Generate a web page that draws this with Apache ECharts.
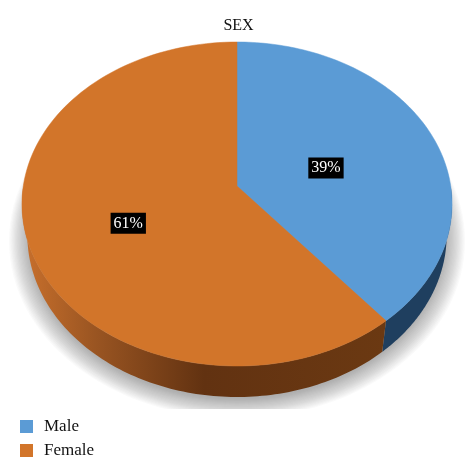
<!DOCTYPE html>
<html><head><meta charset="utf-8">
<style>html,body{margin:0;padding:0;background:#fff}#c{width:474px;height:474px}</style>
<script src="https://cdn.jsdelivr.net/npm/echarts@6/dist/echarts.min.js"></script>
</head><body><div id="c"></div>
<script>
const categories = ['Male', 'Female'];
const values = [39, 61];
const colors = ['#5b9bd5', '#d2752a'];
const labels = ['39%', '61%'];

// Perspective projection of a round disc: centre at vertex, tilted
const CX = 237, CY = 186, A = 213.7, B = 160, C = -1 / 9, DEPTH = 31, LOWER_SCALE = 0.975;
function project(r, deg) {
  const t = deg * Math.PI / 180;
  const u = r * Math.sin(t), v = -r * Math.cos(t), w = 1 + C * v;
  return [CX + A * u / w, CY + B * v / w];
}
const total = values.reduce((a, b) => a + b, 0);
const starts = values.map((_, i) => values.slice(0, i).reduce((a, b) => a + b, 0) / total * 360);
const ends = values.map((_, i) => starts[i] + values[i] / total * 360);

const SHADOW_BOTTOM = 409;
const labelR = [0.45, 0.53], labelDy = [6, 8];
const wallFill = [
  '#1f3f5f',
  { type: 'linear', x: 0, y: 0, x2: 1, y2: 0, colorStops: [
    { offset: 0, color: '#c9702c' }, { offset: 0.2, color: '#9a5522' },
    { offset: 0.5, color: '#623211' }, { offset: 1, color: '#6b3912' } ] }
];
function arc(a, b) {
  const pts = [], n = 120;
  for (let i = 0; i <= n; i++) pts.push(project(1, a + (b - a) * i / n));
  return pts;
}
function renderSlice(idx) {
  return function () {
    const a = starts[idx], b = ends[idx];
    const face = [[CX, CY]].concat(arc(a, b));
    // visible wall only on the near half of the rim
    const wa = Math.max(a, 90), wb = Math.min(b, 270);
    const rim = arc(wa, wb);
    const lower = rim.slice().reverse().map(p => [CX + (p[0] - CX) * LOWER_SCALE, p[1] + DEPTH]);
    const mid = (a + b) / 2;
    const lp = project(labelR[idx], mid);
    return { type: 'group', children: [
      { type: 'polygon', shape: { points: rim.concat(lower) }, style: { fill: wallFill[idx] } },
      { type: 'polygon', shape: { points: face }, style: { fill: colors[idx], stroke: colors[idx], lineWidth: 0.5 } },
      { type: 'text', x: lp[0], y: lp[1] + labelDy[idx], z2: 10, style: {
          text: labels[idx], fill: '#fff', backgroundColor: '#000', padding: [3, 3, 2, 3],
          font: '16px "Liberation Serif"', align: 'center', verticalAlign: 'middle' } }
    ] };
  };
}
// Soft drop shadow: stacked translucent ellipses from inner to outer
const SHADOW_LAYERS = 22;
function renderShadow() {
  const children = [];
  for (let i = 0; i < SHADOW_LAYERS; i++) {
    const f = i / (SHADOW_LAYERS - 1);
    const cy = 235 + 6 * f, rx = 203 + 25 * f, ry = 160 + 17 * f;
    children.push({ type: 'ellipse', shape: { cx: CX, cy, rx, ry },
      style: { fill: 'rgba(70,72,76,0.027)' } });
  }
  children.push({ type: 'rect', shape: { x: 0, y: SHADOW_BOTTOM, width: 474, height: 65 }, style: { fill: '#fff' } });
  return { type: 'group', children };
}
const chart = echarts.init(document.getElementById('c'), null, { renderer: 'canvas' });
chart.setOption({
  animation: false,
  backgroundColor: '#fff',
  title: { text: 'SEX', left: 233.5, top: 13, textAlign: 'center',
    textStyle: { fontFamily: 'Liberation Serif', fontWeight: 'normal', fontSize: 16, color: '#111' } },
  legend: { orient: 'vertical', left: 20, top: 418, padding: 0, itemWidth: 13, itemHeight: 13, itemGap: 7,
    icon: 'rect', data: categories, selectedMode: false,
    textStyle: { fontFamily: 'Liberation Serif', fontSize: 17, color: '#111', padding: [0, 0, 0, 6] } },
  xAxis: { show: false, min: 0, max: 474 }, yAxis: { show: false, min: 0, max: 474 },
  grid: { left: 0, right: 0, top: 0, bottom: 0 },
  series: [
    { type: 'custom', name: 'shadow', coordinateSystem: 'none', silent: true, z: 1, data: [[0]], renderItem: renderShadow },
    ...categories.map((name, i) => ({
      type: 'custom', name, coordinateSystem: 'none', silent: true, z: 2,
      itemStyle: { color: colors[i] }, data: [[values[i]]], renderItem: renderSlice(i)
    }))
  ]
});
</script></body></html>
